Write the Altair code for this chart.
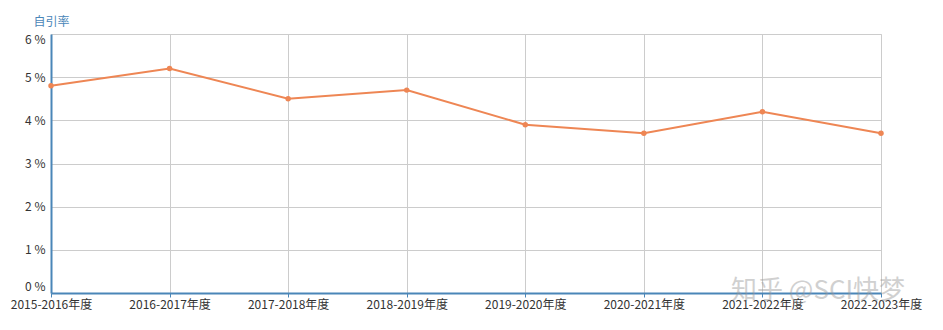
import altair as alt
import pandas as pd

years = ["2015-2016年度", "2016-2017年度", "2017-2018年度", "2018-2019年度",
         "2019-2020年度", "2020-2021年度", "2021-2022年度", "2022-2023年度"]
rates = [4.8, 5.2, 4.5, 4.7, 3.9, 3.7, 4.2, 3.7]

df = pd.DataFrame({"year": years, "rate": rates})
FONT = "Noto Sans CJK SC"

x = alt.X("year:N", sort=years, scale=alt.Scale(type="point", padding=0),
          axis=alt.Axis(title=None, labelAngle=0, labelFont=FONT, labelFontSize=12,
                        labelColor="#333333", labelPadding=2, grid=True,
                        gridColor="#cccccc", domainColor="#4a86b8", domainWidth=2,
                        tickColor="#4a86b8", tickSize=4, labelFlush=False))
y = alt.Y("rate:Q", scale=alt.Scale(domain=[0, 6], nice=False),
          axis=alt.Axis(title="自引率", titleAngle=0, titleX=0, titleY=-9,
                        titleAlign="center", titleBaseline="alphabetic",
                        titleFont=FONT, titleFontSize=12, titleFontWeight="normal",
                        titleColor="#4a86b8", values=[0, 1, 2, 3, 4, 5, 6],
                        labelExpr="datum.value + ' %'", labelFont=FONT,
                        labelFontSize=12, labelColor="#333333", ticks=False,
                        labelFlush=True, labelFlushOffset=0,
                        labelPadding=6, grid=True, gridColor="#cccccc",
                        domainColor="#4a86b8", domainWidth=2))

line = alt.Chart(df).mark_line(color="#ee8654", strokeWidth=2).encode(x=x, y=y)
pts = alt.Chart(df).mark_point(filled=True, color="#ee8654", size=30, opacity=1).encode(x=x, y=y)

wm = alt.Chart(pd.DataFrame({"t": ["知乎 @SCI快梦"]})).mark_text(
    font=FONT, fontSize=26, color="#999999", opacity=0.45, align="left",
    baseline="middle").encode(x=alt.value(680), y=alt.value(257), text="t:N")

chart = (line + pts + wm).properties(
    width=830, height=259,
    padding={"left": 51, "top": 34, "right": 62, "bottom": 37},
    autosize=alt.AutoSizeParams(type="none"),
).configure_view(stroke=None).configure(background="white")

chart.save("out.html", embed_options={"renderer": "svg", "actions": False})
